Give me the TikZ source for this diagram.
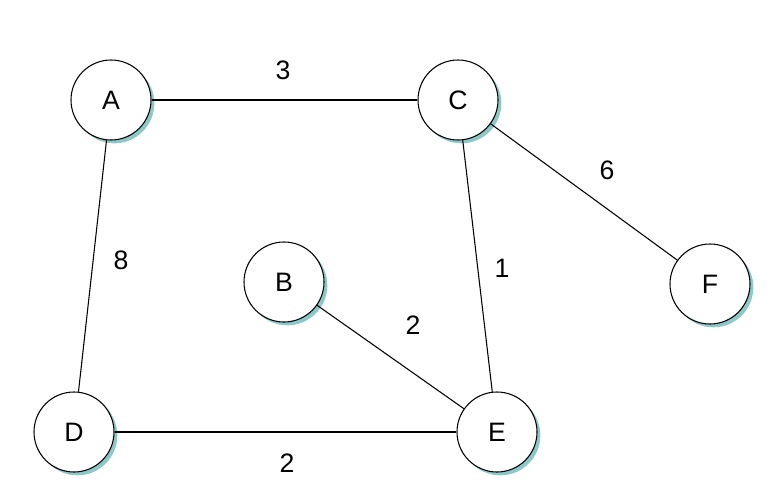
\documentclass[tikz,border=0pt]{standalone}
\usepackage{fontspec}
\setmainfont{Liberation Sans}
\usetikzlibrary{shadows}
\definecolor{shad}{HTML}{8CC8C8}
\begin{document}
\begin{tikzpicture}[x=0.75pt,y=-0.75pt,
  vert/.style={circle,draw=black,line width=0.8pt,fill=white,minimum size=60pt,inner sep=0pt,font=\fontsize{20}{24}\selectfont,
    drop shadow={shadow xshift=2.5pt,shadow yshift=-2.5pt,fill=shad,opacity=1}},
  wt/.style={font=\fontsize{20}{24}\selectfont},
  edge/.style={line width=0.8pt}]
\useasboundingbox (0,0) rectangle (778,496);
\node[vert] (A) at (111,100) {A};
\node[vert] (C) at (458,100) {C};
\node[vert] (B) at (284,282) {B};
\node[vert] (F) at (710,284) {F};
\node[vert] (D) at (74,432) {D};
\node[vert] (E) at (497,432) {E};
\begin{scope}[on background layer/.try]
\end{scope}
\draw[edge] (A) -- (C);
\draw[edge] (C) -- (F);
\draw[edge] (A) -- (D);
\draw[edge] (C) -- (E);
\draw[edge] (B) -- (E);
\draw[edge] (D) -- (E);
\node[wt] (w1) at (283,70) {3};
\node[wt] (w2) at (607,170) {6};
\node[wt] (w3) at (121,260) {8};
\node[wt] (w4) at (502,268) {1};
\node[wt] (w5) at (413,325) {2};
\node[wt] (w6) at (287,463) {2};
\end{tikzpicture}
\end{document}
